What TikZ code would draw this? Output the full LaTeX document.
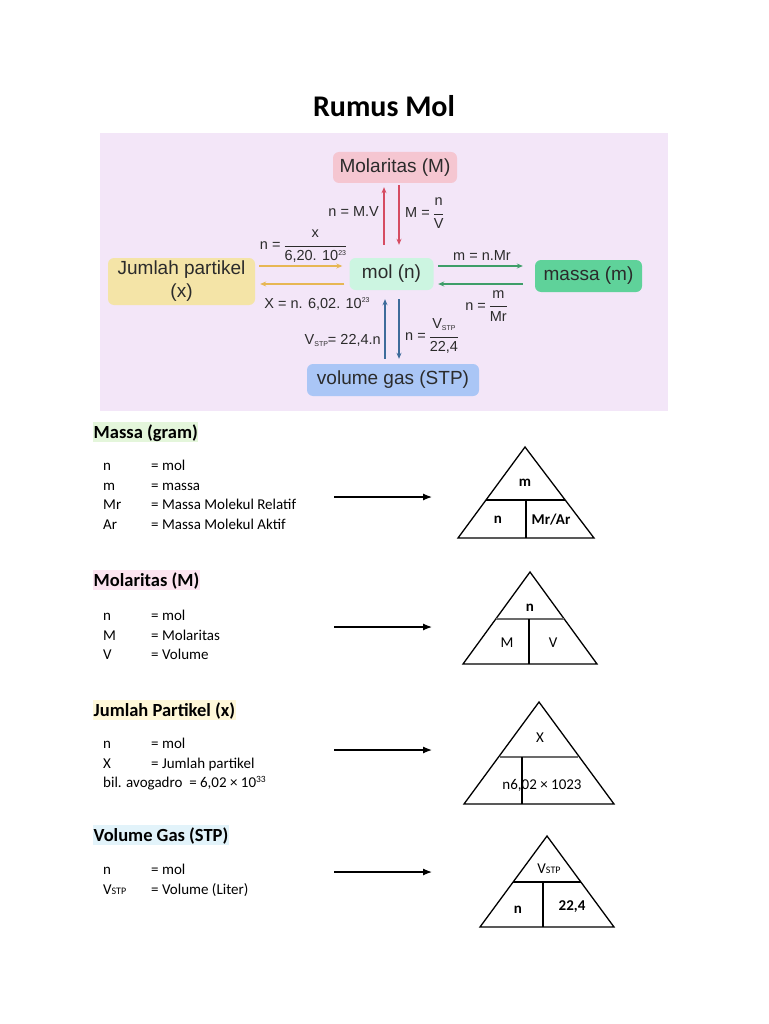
\documentclass[tikz,border=0pt]{standalone}
\usepackage{fontspec}
\setmainfont{Carlito}
\newfontfamily\arial{Liberation Sans}
\usetikzlibrary{arrows.meta,calc}
\definecolor{bgpurple}{HTML}{F3E6F8}
\definecolor{boxpink}{HTML}{F5C6D1}
\definecolor{boxyellow}{HTML}{F4E4A7}
\definecolor{boxmint}{HTML}{CCF5E1}
\definecolor{boxgreen}{HTML}{5FD29A}
\definecolor{boxblue}{HTML}{AAC6F6}
\definecolor{arrred}{HTML}{D64C62}
\definecolor{arryellow}{HTML}{E7B754}
\definecolor{arrgreen}{HTML}{3E9E69}
\definecolor{arrblue}{HTML}{3D6C9B}
\definecolor{txt}{HTML}{2B2B2B}
\definecolor{hgreen}{HTML}{E4F6DB}
\definecolor{hpink}{HTML}{FCE4F0}
\definecolor{hyellow}{HTML}{FFF8D9}
\definecolor{hblue}{HTML}{E2F3FA}
\definecolor{midgray}{HTML}{6B6B6B}
\newcommand{\myfr}[2]{\begin{tabular}[c]{@{}c@{}}#1\\[2.5pt]\hline\rule{0pt}{14.5pt}#2\end{tabular}}
\newcommand{\supsm}[1]{\raisebox{5.5pt}{\fontsize{7}{7}\selectfont #1}}
\newcommand{\subsm}[1]{\raisebox{-2pt}{\fontsize{7}{7}\selectfont #1}}
\newcommand{\stpsm}{{\fontsize{10}{10}\selectfont STP}}
\setlength{\arrayrulewidth}{0.9pt}
\renewcommand{\arraystretch}{1.0}
\begin{document}
\begin{tikzpicture}[x=1pt,y=-1pt,
  cbox/.style={rounded corners=6pt, inner sep=0pt, font=\arial\fontsize{19}{23}\selectfont, text=txt, align=center},
  lab/.style={inner sep=0pt, font=\arial\fontsize{14.5}{17}\selectfont, text=txt},
  ra/.style={draw=arrred, line width=1.3pt, -{Stealth[length=6pt,width=5pt]}},
  ya/.style={draw=arryellow, line width=1.3pt, -{Stealth[length=6pt,width=5pt]}},
  ga/.style={draw=arrgreen, line width=1.3pt, -{Stealth[length=6pt,width=5pt]}},
  ba/.style={draw=arrblue, line width=1.3pt, -{Stealth[length=6pt,width=5pt]}},
  head/.style={anchor=west, font=\bfseries\fontsize{18.5}{21}\selectfont, inner xsep=0.5pt, inner ysep=0pt, text height=16.5pt, text depth=3.5pt},
  body/.style={anchor=west, font=\fontsize{15}{17}\selectfont, inner sep=0pt, text height=10pt, text depth=3pt},
  blk/.style={draw=black, line width=1.2pt, -{Latex[length=9pt,width=7pt]}},
  tri/.style={draw=black, line width=1.3pt, line join=miter},
  tlab/.style={inner sep=0pt, font=\fontsize{15}{17}\selectfont},
  tlabb/.style={inner sep=0pt, font=\bfseries\fontsize{15}{17}\selectfont}
]
\useasboundingbox (0,0) rectangle (768,1024);
\fill[white] (0,0) rectangle (768,1024);

% title
\node[font=\bfseries\fontsize{30}{36}\selectfont] (title) at (384,106) {Rumus Mol};

% top diagram
\fill[bgpurple] (100,133) rectangle (668,411);
\node[cbox, fill=boxpink, minimum width=124pt, minimum height=31pt] (molar) at (395,167.5) {Molaritas (M)};
\node[cbox, fill=boxyellow, minimum width=147pt, minimum height=47pt] (jum) at (181.5,281.5) {Jumlah partikel\\(x)};
\node[cbox, fill=boxmint, minimum width=84pt, minimum height=32pt] (mol) at (391.5,274) {mol (n)};
\node[cbox, fill=boxgreen, minimum width=107pt, minimum height=32pt] (massa) at (588.5,276) {massa (m)};
\node[cbox, fill=boxblue, minimum width=172pt, minimum height=32pt] (vol) at (393,380) {volume gas (STP)};

\draw[ra, shorten <=13pt, shorten >=4pt] (mol.north -| 384,0) -- (molar.south -| 384,0);
\draw[ra, shorten <=2pt, shorten >=13pt] (molar.south -| 399,0) -- (mol.north -| 399,0);
\draw[ya, shorten <=4pt, shorten >=7pt] (jum.east |- 0,266) -- (mol.west |- 0,266);
\draw[ya, shorten <=5pt, shorten >=5pt] (mol.west |- 0,284) -- (jum.east |- 0,284);
\draw[ga, shorten <=4.5pt, shorten >=12pt] (mol.east |- 0,266) -- (massa.west |- 0,266);
\draw[ga, shorten <=12pt, shorten >=4.5pt] (massa.west |- 0,284) -- (mol.east |- 0,284);
\draw[ba, shorten <=5pt, shorten >=9pt] (vol.north -| 385,0) -- (mol.south -| 385,0);
\draw[ba, shorten <=9pt, shorten >=5pt] (mol.south -| 399,0) -- (vol.north -| 399,0);

\node[lab, anchor=east] (lMV) at (379,212) {n = M.V};
\node[lab, anchor=west] (lMnV) at (405,214) {M = \myfr{n}{V}};
\node[lab] (lx1) at (303,246) {n = \myfr{x}{6,20. 10\supsm{23}}};
\node[lab] (lx2) at (317,304) {X = n. 6,02. 10\supsm{23}};
\node[lab] (lm1) at (482,256) {m = n.Mr};
\node[lab] (lm2) at (486,306.5) {n = \myfr{m}{Mr}};
\node[lab, anchor=east] (lv1) at (381,340) {V\subsm{STP}= 22,4.n};
\node[lab, anchor=west] (lv2) at (405,337) {n = \myfr{V\subsm{STP}}{22,4}};

% section 1
\node[head, fill=hgreen] (h1) at (93,432) {Massa (gram)};
\node[body] (s1a) at (103,467) {n};
\node[body] (s1b) at (103,486.5) {m};
\node[body] (s1c) at (103,506) {Mr};
\node[body] (s1d) at (103,525.5) {Ar};
\node[body] (s1e) at (151,467) {= mol};
\node[body] (s1f) at (151,486.5) {= massa};
\node[body] (s1g) at (151,506) {= Massa Molekul Relatif};
\node[body] (s1h) at (151,525.5) {= Massa Molekul Aktif};
\coordinate (a1s) at (334,497);
\coordinate (a1e) at (432,497);
\draw[blk] (a1s) -- (a1e);
\draw[tri] (525,447) -- (594,538) -- (458,538) -- cycle;
\draw[tri] (486,500) -- (565,500);
\draw[tri] (526,500) -- (526,538);
\node[tlabb] (t1a) at (525,483) {m};
\node[tlabb] (t1b) at (498,520) {n};
\node[tlabb] (t1c) at (551,520) {Mr/Ar};

% section 2
\node[head, fill=hpink] (h2) at (93,580) {Molaritas (M)};
\node[body] (s2a) at (103,617) {n};
\node[body] (s2b) at (103,636.5) {M};
\node[body] (s2c) at (103,656) {V};
\node[body] (s2d) at (151,617) {= mol};
\node[body] (s2e) at (151,636.5) {= Molaritas};
\node[body] (s2f) at (151,656) {= Volume};
\coordinate (a2s) at (334,627);
\coordinate (a2e) at (432,627);
\draw[blk] (a2s) -- (a2e);
\draw[tri] (530,572) -- (597,664) -- (463,664) -- cycle;
\draw[draw=midgray, line width=2.2pt] (496,619) -- (564,619);
\draw[tri] (529,619) -- (529,664);
\node[tlabb] (t2a) at (530,608) {n};
\node[tlab] (t2b) at (507,643) {M};
\node[tlab] (t2c) at (553,643) {V};

% section 3
\node[head, fill=hyellow] (h3) at (93,710) {Jumlah Partikel (x)};
\node[body] (s3a) at (103,745) {n};
\node[body] (s3b) at (103,764.5) {X};
\node[body] (s3c) at (103,784) {bil. avogadro\ \ = 6,02 × 10\raisebox{5pt}{\fontsize{9.5}{9.5}\selectfont 33}};
\node[body] (s3d) at (151,745) {= mol};
\node[body] (s3e) at (151,764.5) {= Jumlah partikel};
\coordinate (a3s) at (334,750);
\coordinate (a3e) at (432,750);
\draw[blk] (a3s) -- (a3e);
\draw[tri] (539,702) -- (614,804) -- (464,804) -- cycle;
\draw[draw=midgray, line width=2.2pt] (500,757) -- (578,757);
\draw[tri] (522,757) -- (522,804);
\node[tlab] (t3a) at (540,738) {X};
\node[tlab] (t3b) at (542,785) {n6,02 × 1023};

% section 4
\node[head, fill=hblue] (h4) at (93,835) {Volume Gas (STP)};
\node[body] (s4a) at (103,871) {n};
\node[body] (s4b) at (103,890.5) {V\stpsm};
\node[body] (s4c) at (151,871) {= mol};
\node[body] (s4d) at (151,890.5) {= Volume (Liter)};
\coordinate (a4s) at (334,872);
\coordinate (a4e) at (432,872);
\draw[blk] (a4s) -- (a4e);
\draw[tri] (547,836) -- (614,927) -- (480,927) -- cycle;
\draw[tri] (513,882) -- (581,882);
\draw[tri] (543,882) -- (543,927);
\node[tlab] (t4a) at (549,869) {V\stpsm};
\node[tlabb] (t4b) at (518,910) {n};
\node[tlabb] (t4c) at (572,907) {22,4};
\end{tikzpicture}
\end{document}
